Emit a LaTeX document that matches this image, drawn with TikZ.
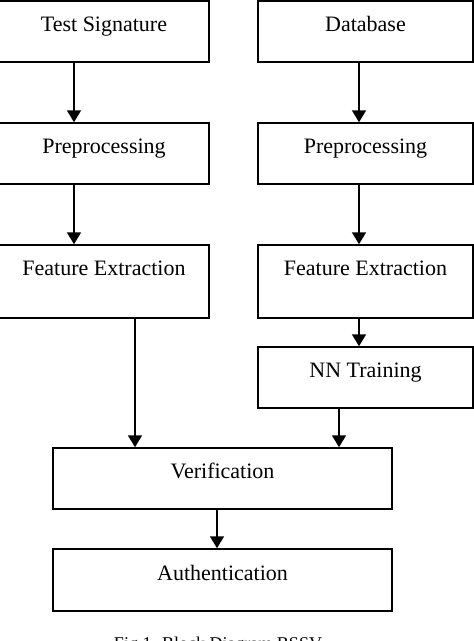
\documentclass[tikz,border=0pt]{standalone}
\usepackage{fontspec}
\setmainfont{Liberation Serif}
\usetikzlibrary{arrows.meta}
\tikzset{
  blk/.style={draw=black, line width=1.5pt, rectangle, inner sep=0pt,
    minimum height=61pt, font=\fontsize{22}{26}\selectfont,
    text height=10pt, text depth=10pt},
  arr/.style={draw=black, line width=1.6pt, -{Triangle[width=14pt,length=12pt]}},
}
\begin{document}
\begin{tikzpicture}[x=1pt, y=1pt, yscale=-1]
\useasboundingbox (0,0) rectangle (474,641);
\clip (0,0) rectangle (474,641);
% columns
\coordinate (colL) at (74,0);
\coordinate (colR) at (359,0);
\coordinate (inL) at (135,0);
\coordinate (inR) at (339,0);
\coordinate (colV) at (217,0);
% left column
\node[blk, minimum width=210pt] (tsig) at (104,31.5) {Test Signature};
\node[blk, minimum width=210pt] (preL) at (104,153.5) {Preprocessing};
\node[blk, minimum width=210pt, minimum height=73pt, text depth=22pt] (featL) at (104,281.5) {Feature Extraction};
% right column
\node[blk, minimum width=215pt] (dbase) at (365.5,31.5) {Database};
\node[blk, minimum width=215pt] (preR) at (365.5,153.5) {Preprocessing};
\node[blk, minimum width=215pt, minimum height=73pt, text depth=22pt] (featR) at (365.5,281.5) {Feature Extraction};
\node[blk, minimum width=215pt] (nntr) at (365.5,377.5) {NN Training};
% bottom
\node[blk, minimum width=339pt] (verif) at (222.5,478.5) {Verification};
\node[blk, minimum width=339pt, minimum height=62pt] (auth) at (222.5,580) {Authentication};
\node[anchor=base, inner sep=0pt, font=\fontsize{18}{20}\selectfont] (cap) at (218,649) {Fig.1. Block Diagram BSSV};
% connectors
\draw[arr] (tsig.south -| colL) -- (preL.north -| colL);
\draw[arr] (preL.south -| colL) -- (featL.north -| colL);
\draw[arr] (dbase.south -| colR) -- (preR.north -| colR);
\draw[arr] (preR.south -| colR) -- (featR.north -| colR);
\draw[arr] (featR.south -| colR) -- (nntr.north -| colR);
\draw[arr] (featL.south -| inL) -- (verif.north -| inL);
\draw[arr] (nntr.south -| inR) -- (verif.north -| inR);
\draw[arr] (verif.south -| colV) -- (auth.north -| colV);
\end{tikzpicture}
\end{document}
